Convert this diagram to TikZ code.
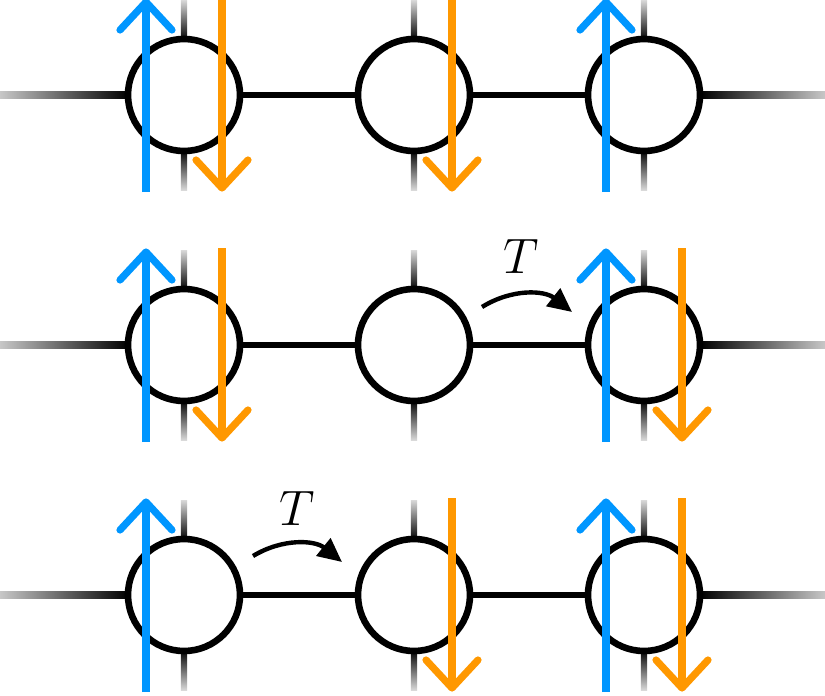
\documentclass[tikz,border=0pt]{standalone}
\usetikzlibrary{arrows.meta}
\definecolor{spinblue}{RGB}{0,150,255}
\definecolor{spinorange}{RGB}{255,152,0}
\tikzset{
  site/.style={circle,draw=black,fill=white,line width=3.3pt,minimum size=56pt,inner sep=0pt,outer sep=0pt},
  bond/.style={line width=3.2pt,black},
  shaft/.style={line width=3.6pt,line cap=butt},
  barb/.style={line width=3.6pt,line cap=round,line join=round},
  hop/.style={line width=2.2pt,-{Triangle[length=12pt,width=11pt]}},
  hoplabel/.style={font=\fontsize{25}{30}\selectfont},
}
\begin{document}
\begin{tikzpicture}[x=0.5pt,y=-0.5pt]
\useasboundingbox (0,0) rectangle (825,696);
\foreach \r/\c in {1/95,2/345,3/595}{
  % faded ends
  \shade[left color=black!22,right color=black] (0,\c-3.2) rectangle (128,\c+3.2);
  \shade[left color=black,right color=black!22] (700,\c-3.2) rectangle (825,\c+3.2);
  \foreach \s/\x in {1/184,2/414,3/644}{
    \shade[top color=black!15,bottom color=black] (\x-3.2,\c-95) rectangle (\x+3.2,\c-55);
    \shade[top color=black,bottom color=black!15] (\x-3.2,\c+55) rectangle (\x+3.2,\c+95);
    \node[site] (n\r\s) at (\x,\c) {};
  }
  \draw[bond] (n\r1) -- (n\r2);
  \draw[bond] (n\r2) -- (n\r3);
}
% spins
\foreach \x/\c in {146/95,606/95,146/345,606/345,146/595,606/595}{
  \draw[shaft,spinblue] (\x,\c+97) -- (\x,\c-93);
  \draw[barb,spinblue] (\x-26,\c-65) -- (\x,\c-93) -- (\x+26,\c-65);
}
\foreach \x/\c in {222/95,452/95,222/345,682/345,452/595,682/595}{
  \draw[shaft,spinorange] (\x,\c-97) -- (\x,\c+93);
  \draw[barb,spinorange] (\x-26,\c+65) -- (\x,\c+93) -- (\x+26,\c+65);
}
% hopping
\coordinate (h2a) at (482,307);
\coordinate (h2b) at (572,312);
\draw[hop] (h2a) to[bend left=35] (h2b);
\node[hoplabel] (t2) at (521,256) {$T$};
\coordinate (h3a) at (253,556);
\coordinate (h3b) at (342,562);
\draw[hop] (h3a) to[bend left=35] (h3b);
\node[hoplabel] (t3) at (297,508) {$T$};
\end{tikzpicture}
\end{document}
